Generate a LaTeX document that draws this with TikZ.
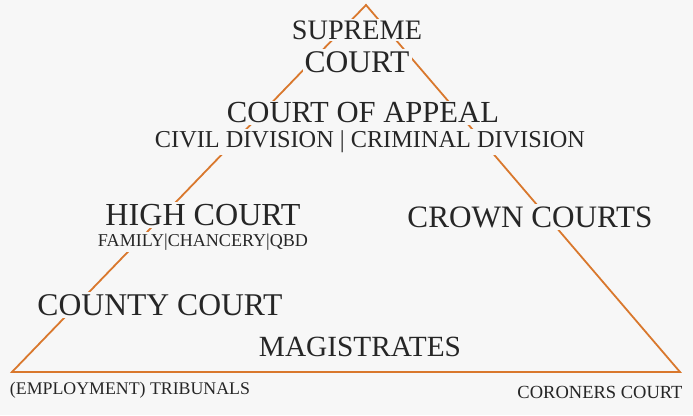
\documentclass[tikz,border=0pt]{standalone}
\usepackage{fontspec}
\setmainfont{Liberation Serif}
\definecolor{bg}{HTML}{F7F7F7}
\definecolor{tri}{HTML}{D9782D}
\begin{document}
\begin{tikzpicture}[x=1pt,y=-1pt,
  lbl/.style={fill=bg,inner xsep=2pt,inner ysep=2pt,text=black!85}]
\fill[bg] (0,0) rectangle (693,415);
\useasboundingbox (0,0) rectangle (693,415);
\coordinate (A) at (366,5);
\coordinate (L) at (12,372);
\coordinate (R) at (680,372);
\draw[tri,line width=1.8pt,line join=miter] (L) -- (A) -- (R) -- cycle;
\node[lbl] (sup1) at (357,30) {\resizebox{130pt}{!}{SUPREME}};
\node[lbl] (sup2) at (357,62) {\resizebox{105pt}{!}{COURT}};
\node[lbl] (coa) at (363,113) {\resizebox{272pt}{!}{COURT OF APPEAL}};
\node[lbl] (div) at (370,142) {\resizebox{430pt}{!}{CIVIL DIVISION | CRIMINAL DIVISION}};
\node[lbl] (hc) at (203,215) {\resizebox{195pt}{!}{HIGH COURT}};
\node[lbl] (fam) at (203,242) {\resizebox{210pt}{!}{FAMILY|CHANCERY|QBD}};
\node[lbl] (cc) at (530,217) {\resizebox{245pt}{!}{CROWN COURTS}};
\node[lbl] (cty) at (160,305) {\resizebox{245pt}{!}{COUNTY COURT}};
\node[lbl] (mag) at (360,347) {\resizebox{202pt}{!}{MAGISTRATES}};
\node[lbl] (trib) at (130,390) {\resizebox{240pt}{!}{(EMPLOYMENT) TRIBUNALS}};
\node[lbl] (cor) at (600,392) {\resizebox{165pt}{!}{CORONERS COURT}};
\end{tikzpicture}
\end{document}
